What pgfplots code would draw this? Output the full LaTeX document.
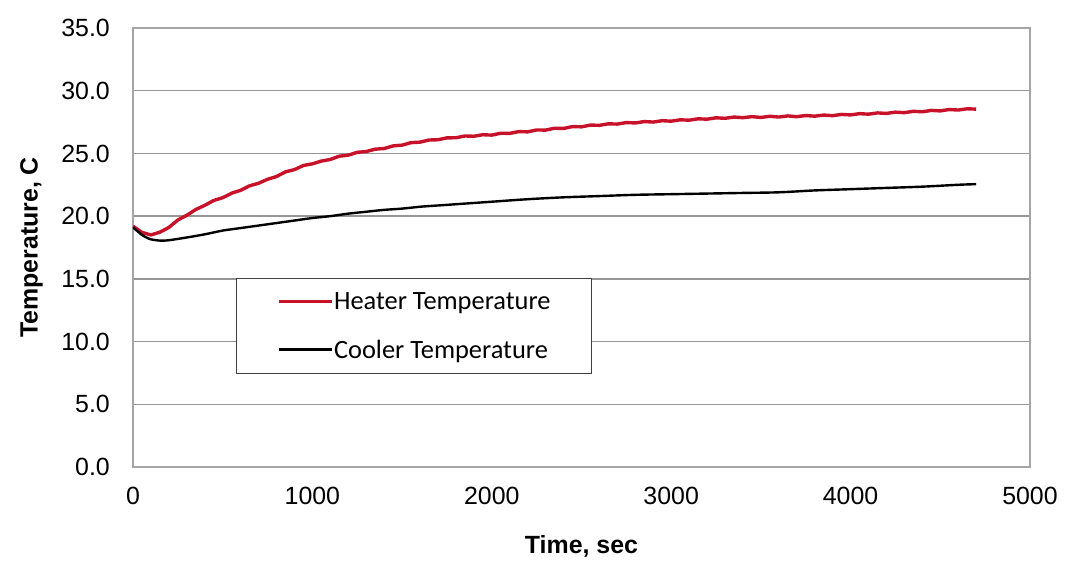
\documentclass[border=0pt]{standalone}
\usepackage{fontspec}
\setmainfont{Liberation Sans}
\newfontfamily\legfont{Carlito}
\usepackage{pgfplots}
\pgfplotsset{compat=1.18}
\definecolor{heat}{RGB}{200,18,42}
\definecolor{gridc}{RGB}{150,150,150}
\definecolor{framec}{RGB}{165,165,165}
\begin{document}
\begin{tikzpicture}
\useasboundingbox (-133bp,-101bp) rectangle (940bp,467bp);
\begin{axis}[
  at={(0,0)}, anchor=south west,
  scale only axis, width=897bp, height=439bp,
  xmin=0, xmax=5000, ymin=0, ymax=35,
  xtick={0,1000,2000,3000,4000,5000},
  ytick={0,5,10,15,20,25,30,35},
  ymajorgrids,
  major grid style={gridc, line width=1.4bp},
  axis line style={framec, line width=1.6bp},
  major tick length=0pt,
  /pgf/number format/assume math mode=true,
  /pgf/number format/set thousands separator={},
  tick label style={font=\fontsize{25}{30}\selectfont, inner sep=0pt},
  yticklabel={\pgfmathprintnumber[fixed,fixed zerofill,precision=1]{\tick}},
  yticklabel style={xshift=-23bp},
  xticklabel style={yshift=-20bp},
  xlabel={Time, sec},
  ylabel={Temperature, C},
  xlabel style={font=\bfseries\fontsize{25}{30}\selectfont, at={(axis description cs:0.5,-0.1549)}, anchor=north, inner sep=0pt},
  ylabel style={font=\bfseries\fontsize{25}{30}\selectfont, at={(axis description cs:-0.1132,0.5)}, anchor=center, inner sep=0pt},
  legend style={at={(axis description cs:0.1148,0.4312)}, anchor=north west,
    draw=black!75, line width=1.2bp, fill=white,
    font=\legfont\fontsize{26.5}{30}\selectfont,
    inner xsep=41bp, inner ysep=14bp, row sep=29bp,
    nodes={inner sep=0pt},
    /tikz/every odd column/.append style={column sep=1bp}},
  legend cell align=left,
  legend image code/.code={\draw[#1, line width=2.5bp] (0bp,0bp) -- (53bp,0bp);},
]
\addplot[heat, line width=3.4bp, line join=round] coordinates {
(0,19.2) (50,18.7) (100,18.5) (150,18.72) (200,19.1) (250,19.69) (300,20.07) (350,20.53)
(400,20.86) (450,21.25) (500,21.47) (550,21.83) (600,22.06) (650,22.42) (700,22.62) (750,22.94)
(800,23.16) (850,23.53) (900,23.71) (950,24.04) (1000,24.17) (1050,24.39) (1100,24.52) (1150,24.78)
(1200,24.86) (1250,25.09) (1300,25.15) (1350,25.34) (1400,25.39) (1450,25.6) (1500,25.66) (1550,25.86)
(1600,25.9) (1650,26.07) (1700,26.09) (1750,26.24) (1800,26.25) (1850,26.39) (1900,26.37) (1950,26.49)
(2000,26.46) (2050,26.61) (2100,26.6) (2150,26.74) (2200,26.72) (2250,26.87) (2300,26.86) (2350,27.01)
(2400,26.99) (2450,27.14) (2500,27.12) (2550,27.26) (2600,27.24) (2650,27.36) (2700,27.34) (2750,27.46)
(2800,27.43) (2850,27.54) (2900,27.5) (2950,27.61) (3000,27.57) (3050,27.68) (3100,27.65) (3150,27.76)
(3200,27.73) (3250,27.84) (3300,27.8) (3350,27.9) (3400,27.85) (3450,27.93) (3500,27.87) (3550,27.96)
(3600,27.9) (3650,27.99) (3700,27.93) (3750,28.02) (3800,27.97) (3850,28.06) (3900,28.01) (3950,28.11)
(4000,28.07) (4050,28.17) (4100,28.13) (4150,28.23) (4200,28.19) (4250,28.29) (4300,28.25) (4350,28.36)
(4400,28.32) (4450,28.43) (4500,28.39) (4550,28.5) (4600,28.46) (4650,28.56) (4700,28.53)
};
\addlegendentry{Heater Temperature}
\addplot[black, line width=2.4bp, smooth] coordinates {
(0,19.1) (25,18.8) (50,18.5) (75,18.3) (100,18.15) (150,18.05) (200,18.08) (300,18.3)
(400,18.55) (500,18.85) (600,19.05) (700,19.25) (800,19.45) (900,19.65) (1000,19.85) (1100,20.0)
(1200,20.2) (1300,20.35) (1400,20.5) (1500,20.6) (1600,20.75) (1700,20.85) (1800,20.95) (2000,21.15)
(2200,21.35) (2400,21.5) (2600,21.6) (2800,21.7) (3000,21.75) (3200,21.8) (3400,21.85) (3600,21.9)
(3800,22.05) (4000,22.15) (4200,22.25) (4400,22.35) (4600,22.5) (4700,22.55)
};
\addlegendentry{Cooler Temperature}
\end{axis}
\end{tikzpicture}
\end{document}
